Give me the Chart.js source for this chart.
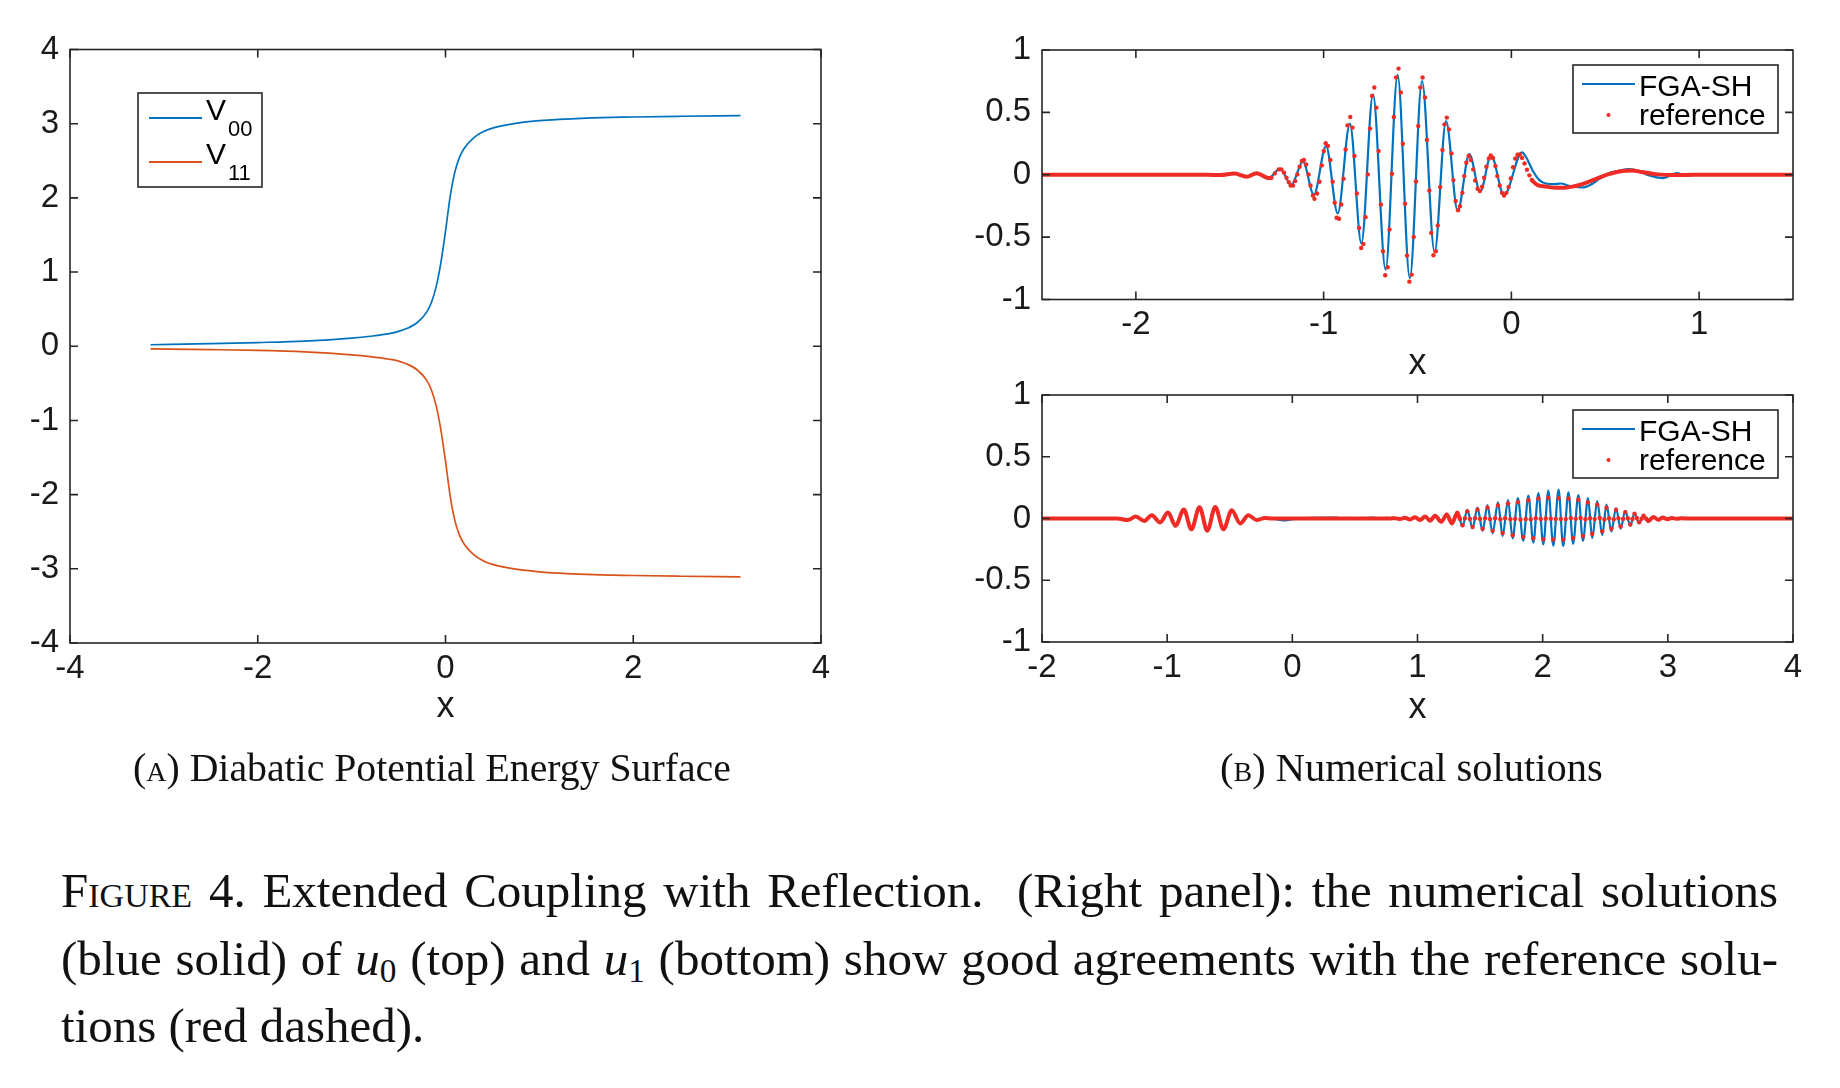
<!DOCTYPE html>
<html>
<head>
<meta charset="utf-8">
<script src="https://cdn.jsdelivr.net/npm/chart.js@4.4.1/dist/chart.umd.min.js"></script>
<style>
html, body { margin: 0; padding: 0; background: #fff; }
body { width: 1840px; height: 1088px; position: relative; overflow: hidden; font-family: 'Liberation Serif', serif; color: #111; }
canvas { position: absolute; }
.txt { position: absolute; white-space: pre; line-height: 1; }
.sc { font-variant: small-caps; }
.txt sub { font-size: 0.68em; vertical-align: baseline; position: relative; top: 0.22em; }
</style>
</head>
<body>
<canvas id="potChart" width="900" height="760" style="left:0;top:0"></canvas>
<canvas id="u0Chart" width="880" height="400" style="left:960px;top:0"></canvas>
<canvas id="u1Chart" width="880" height="400" style="left:960px;top:360px"></canvas>

<div class="txt" id="subA">(<span class="sc">a</span>) Diabatic Potential Energy Surface</div>
<div class="txt" id="subB">(<span class="sc">b</span>) Numerical solutions</div>
<div class="txt cap" id="cap1"><span class="sc">Figure</span> 4. Extended Coupling with Reflection.  (Right panel): the numerical solutions</div>
<div class="txt cap" id="cap2">(blue solid) of <i>u</i><sub>0</sub> (top) and <i>u</i><sub>1</sub> (bottom) show good agreements with the reference solu-</div>
<div class="txt cap" id="cap3">tions (red dashed).</div>

<script>
// --- DATA ---
// (A) diabatic potentials
const potX = [-3.1416, -2.5, -2, -1.5, -1, -0.8, -0.6, -0.5, -0.4, -0.3, -0.2, -0.15, -0.1, -0.05, 0, 0.05, 0.1, 0.15, 0.2, 0.3, 0.4, 0.5, 0.7, 1, 1.5, 2, 2.5, 3.1416];
const v00 = [0.02, 0.035, 0.05, 0.07, 0.11, 0.135, 0.17, 0.2, 0.245, 0.32, 0.46, 0.59, 0.8, 1.12, 1.55, 2.02, 2.35, 2.55, 2.67, 2.81, 2.89, 2.94, 2.995, 3.04, 3.075, 3.09, 3.1, 3.11];
const v11 = [-0.035, -0.045, -0.055, -0.075, -0.115, -0.14, -0.175, -0.2, -0.245, -0.32, -0.46, -0.59, -0.8, -1.12, -1.55, -2.02, -2.35, -2.55, -2.67, -2.81, -2.89, -2.94, -2.995, -3.04, -3.075, -3.09, -3.1, -3.11];

// (B) top: u0
const u0Blue = [[-2.5,0],[-1.65,0],[-1.58,0.003],[-1.53,-0.003],[-1.475,0.01],[-1.41,-0.015],[-1.357,0.015],[-1.295,-0.032],
  [-1.233,0.048],[-1.172,-0.078],[-1.11,0.105],[-1.052,-0.16],[-0.987,0.23],[-0.925,-0.31],[-0.86,0.41],[-0.799,-0.55],
  [-0.737,0.645],[-0.67,-0.76],[-0.606,0.8],[-0.541,-0.83],[-0.476,0.75],[-0.409,-0.62],[-0.348,0.43],[-0.286,-0.29],
  [-0.224,0.165],[-0.166,-0.135],[-0.108,0.155],[-0.039,-0.165],[0.057,0.18],[0.079,0.139],[0.114,0.032],[0.149,-0.043],
  [0.184,-0.07],[0.228,-0.075],[0.263,-0.07],[0.308,-0.088],[0.378,-0.102],[0.422,-0.08],[0.466,-0.035],[0.519,0.011],
  [0.572,0.032],[0.625,0.046],[0.677,0.032],[0.73,-0.003],[0.809,-0.027],[0.88,0.013],[0.933,-0.008],[0.994,0.005],
  [1.065,0],[1.2,0.003],[1.3,-0.002],[1.5,0]];
const u0RefDots = [[-1.278,-0.024],[-1.26,0.011],[-1.239,0.043],[-1.225,0.043],[-1.211,0.016],[-1.198,-0.024],[-1.186,-0.059],
  [-1.176,-0.086],[-1.163,-0.086],[-1.151,-0.051],[-1.14,0.003],[-1.128,0.064],[-1.116,0.11],[-1.105,0.118],[-1.093,0.083],
  [-1.08,0.003],[-1.07,-0.086],[-1.057,-0.166],[-1.049,-0.193],[-1.035,-0.15],[-1.022,-0.056],[-1.01,0.075],[-0.999,0.19],
  [-0.989,0.252],[-0.977,0.23],[-0.964,0.118],[-0.952,-0.056],[-0.941,-0.225],[-0.931,-0.345],[-0.918,-0.353],[-0.906,-0.238],
  [-0.894,-0.032],[-0.883,0.203],[-0.873,0.396],[-0.858,0.463],[-0.846,0.378],[-0.836,0.15],[-0.823,-0.15],[-0.811,-0.426],
  [-0.8,-0.587],[-0.788,-0.555],[-0.777,-0.34],[-0.765,0.003],[-0.753,0.37],[-0.742,0.632],[-0.73,0.699],[-0.719,0.538],
  [-0.707,0.19],[-0.695,-0.238],[-0.684,-0.613],[-0.672,-0.806],[-0.659,-0.742],[-0.649,-0.439],[-0.636,0.008],[-0.626,0.463],
  [-0.614,0.779],[-0.601,0.851],[-0.589,0.659],[-0.578,0.249],[-0.566,-0.233],[-0.556,-0.648],[-0.543,-0.857],[-0.531,-0.801],
  [-0.52,-0.498],[-0.508,-0.054],[-0.496,0.391],[-0.485,0.699],[-0.473,0.779],[-0.46,0.619],[-0.45,0.279],[-0.437,-0.126],
  [-0.427,-0.466],[-0.415,-0.645],[-0.402,-0.613],[-0.392,-0.407],[-0.379,-0.099],[-0.367,0.198],[-0.356,0.404],[-0.344,0.458],
  [-0.332,0.364],[-0.319,0.171],[-0.309,-0.043],[-0.297,-0.211],[-0.284,-0.284],[-0.274,-0.252],[-0.261,-0.145],[-0.251,-0.011],
  [-0.24,0.096],[-0.228,0.15],[-0.216,0.118],[-0.203,0.043],[-0.193,-0.046],[-0.18,-0.112],[-0.168,-0.131],[-0.156,-0.096],
  [-0.145,-0.024],[-0.133,0.064],[-0.12,0.131],[-0.11,0.155],[-0.098,0.134],[-0.085,0.07],[-0.075,-0.011],[-0.062,-0.086],
  [-0.05,-0.145],[-0.039,-0.166],[-0.027,-0.145],[-0.015,-0.098],[-0.003,-0.03],[0.009,0.06],[0.021,0.13],[0.033,0.16],
  [0.045,0.162],[0.057,0.135],[0.07,0.09],[0.083,0.04],[0.096,-0.005],[0.109,-0.042]];
const u0RefLeft = [[-2.5,0],[-1.62,0],[-1.55,-0.003],[-1.475,0.01],[-1.41,-0.016],[-1.357,0.013],[-1.295,-0.026],[-1.278,-0.024]];
const u0RefRight = [[0.109,-0.042],[0.123,-0.065],[0.14,-0.083],[0.184,-0.095],[0.246,-0.105],[0.272,-0.105],[0.325,-0.095],
  [0.378,-0.075],[0.448,-0.035],[0.519,0.005],[0.589,0.03],[0.642,0.035],[0.695,0.022],[0.765,0.005],[0.854,-0.003],[0.977,0],[1.5,0]];

// (B) bottom: u1
const u1Blue = [[-2,0],[-1.4,0],[-1.316,-0.013],[-1.25,0.016],[-1.184,-0.02],[-1.123,0.028],[-1.057,-0.034],[-0.993,0.05],
  [-0.933,-0.062],[-0.867,0.076],[-0.806,-0.09],[-0.742,0.095],[-0.679,-0.102],[-0.616,0.097],[-0.55,-0.09],[-0.484,0.07],
  [-0.417,-0.042],[-0.351,0.028],[-0.285,-0.013],[-0.219,0.005],[-0.16,0],[-0.1,-0.012],[-0.05,-0.016],[0,-0.006],[0.05,0],
  [0.35,0.008],[0.4,-0.004],[0.45,0.006],[0.5,0],[0.65,0.008],[0.7,-0.004],[0.75,0.006],[0.8,0],
  [0.82,0.003],[0.86,-0.005],[0.9,0.006],[0.94,-0.008],[0.98,0.01],[1.02,-0.013],[1.062,0.018],[1.1,-0.02],[1.141,0.026],
  [1.19,-0.03],[1.234,0.038],[1.275,-0.046],[1.318,0.055],[1.36,-0.064],[1.398,0.07],[1.44,-0.08],[1.479,0.088],[1.52,-0.1],
  [1.559,0.108],[1.6,-0.12],[1.643,0.13],[1.68,-0.142],[1.723,0.15],[1.76,-0.162],[1.802,0.165],[1.845,-0.18],[1.886,0.185],
  [1.925,-0.195],[1.966,0.205],[2.005,-0.21],[2.045,0.225],[2.085,-0.22],[2.127,0.235],[2.164,-0.222],[2.206,0.212],
  [2.243,-0.205],[2.285,0.19],[2.322,-0.18],[2.362,0.165],[2.396,-0.158],[2.436,0.14],[2.476,-0.133],[2.51,0.112],
  [2.549,-0.105],[2.586,0.085],[2.623,-0.082],[2.66,0.062],[2.7,-0.058],[2.734,0.042],[2.771,-0.038],[2.806,0.025],
  [2.845,-0.023],[2.885,0.014],[2.925,-0.012],[2.956,0.008],[3,-0.006],[3.03,0.004],[3.07,-0.003],[3.11,0.002],[3.2,0],[4,0]];
const u1RefLeft = [[-2,0],[-1.4,0],[-1.316,-0.013],[-1.25,0.016],[-1.184,-0.02],[-1.123,0.027],[-1.057,-0.032],[-0.993,0.048],
  [-0.933,-0.059],[-0.867,0.072],[-0.806,-0.088],[-0.742,0.091],[-0.679,-0.099],[-0.616,0.094],[-0.55,-0.088],[-0.484,0.067],
  [-0.417,-0.04],[-0.351,0.027],[-0.285,-0.013],[-0.219,0.005],[-0.16,0],[0.78,0],[0.82,0.003],[0.86,-0.005],[0.9,0.006],
  [0.94,-0.008],[0.98,0.01],[1.02,-0.012],[1.062,0.016],[1.1,-0.018],[1.141,0.022],[1.19,-0.026],[1.234,0.032],[1.275,-0.04],
  [1.318,0.045],[1.339,-0.004]];
const u1RefDots = [[1.318,0.045],[1.339,-0.004],[1.36,-0.055],[1.379,0.002],[1.398,0.058],[1.419,-0.004],[1.44,-0.068],
  [1.46,0.003],[1.479,0.072],[1.5,-0.004],[1.52,-0.083],[1.54,0.002],[1.559,0.088],[1.58,-0.005],[1.6,-0.1],[1.62,0.003],
  [1.643,0.105],[1.662,-0.006],[1.68,-0.118],[1.7,0.002],[1.723,0.122],[1.742,-0.006],[1.76,-0.135],[1.78,-0.002],
  [1.802,0.132],[1.823,-0.008],[1.845,-0.15],[1.865,-0.004],[1.886,0.148],[1.905,-0.006],[1.925,-0.16],[1.945,0.002],
  [1.966,0.162],[1.985,-0.004],[2.005,-0.168],[2.025,0],[2.045,0.168],[2.065,-0.002],[2.085,-0.17],[2.105,-0.003],
  [2.127,0.165],[2.145,-0.004],[2.164,-0.171],[2.185,-0.005],[2.206,0.162],[2.225,0.002],[2.243,-0.158],[2.264,-0.003],
  [2.285,0.152],[2.303,0.004],[2.322,-0.142],[2.342,-0.006],[2.362,0.13],[2.379,0.003],[2.396,-0.123],[2.416,-0.005],
  [2.436,0.112],[2.456,0.004],[2.476,-0.104],[2.493,-0.008],[2.51,0.088],[2.53,0.002],[2.549,-0.083],[2.568,-0.006],
  [2.586,0.07],[2.605,0.003],[2.623,-0.064],[2.642,-0.004],[2.66,0.052],[2.68,0.002],[2.7,-0.048],[2.717,-0.004],
  [2.734,0.038],[2.752,0.004],[2.771,-0.03],[2.79,-0.002],[2.806,0.022],[2.825,0.001],[2.845,-0.019]];
const u1RefRight = [[2.825,0.001],[2.845,-0.019],[2.885,0.013],[2.925,-0.011],[2.956,0.008],[3,-0.006],[3.03,0.004],
  [3.07,-0.003],[3.11,0.002],[3.2,0],[4,0]];

// tick labels
const potXTicks = [-4, -2, 0, 2, 4];
const potYTicks = [-4, -3, -2, -1, 0, 1, 2, 3, 4];
const u0XTicks = [-2, -1, 0, 1];
const u1XTicks = [-2, -1, 0, 1, 2, 3, 4];
const uYTicks = [-1, -0.5, 0, 0.5, 1];

// --- STYLE ---
const BLUE = '#0072BD';
const ORANGE = '#D95319';
const RED = '#ee2b24';
const AXIS = '#262626';
const TEXT = '#1a1a1a';

Chart.defaults.font.family = "'Liberation Sans', Arial, sans-serif";
Chart.defaults.color = TEXT;

const toPts = pairs => pairs.map(([x, y]) => ({ x, y }));
const zipPts = (xs, ys) => xs.map((x, i) => ({ x, y: ys[i] }));

// MATLAB-like box with inward ticks on all four sides
const matlabAxes = {
    id: 'matlabAxes',
    afterDatasetsDraw(chart) {
        const { ctx, chartArea: a, scales } = chart;
        const len = 8;
        ctx.save();
        ctx.strokeStyle = AXIS;
        ctx.lineWidth = 1.6;
        ctx.beginPath();
        scales.x.ticks.forEach(t => {
            const px = scales.x.getPixelForValue(t.value);
            ctx.moveTo(px, a.bottom); ctx.lineTo(px, a.bottom - len);
            ctx.moveTo(px, a.top); ctx.lineTo(px, a.top + len);
        });
        scales.y.ticks.forEach(t => {
            const py = scales.y.getPixelForValue(t.value);
            ctx.moveTo(a.left, py); ctx.lineTo(a.left + len, py);
            ctx.moveTo(a.right, py); ctx.lineTo(a.right - len, py);
        });
        ctx.stroke();
        ctx.strokeRect(a.left, a.top, a.right - a.left, a.bottom - a.top);
        ctx.restore();
    }
};

// boxed legend drawn like the MATLAB one
const matlabLegend = {
    id: 'matlabLegend',
    afterDraw(chart, args, opts) {
        if (!opts || !opts.box) return;
        const { ctx } = chart;
        const [bx, by, bw, bh] = opts.box;
        ctx.save();
        ctx.fillStyle = '#fff';
        ctx.fillRect(bx, by, bw, bh);
        ctx.strokeStyle = AXIS;
        ctx.lineWidth = 1.6;
        ctx.strokeRect(bx, by, bw, bh);
        opts.items.forEach(it => {
            if (it.kind === 'line') {
                ctx.strokeStyle = it.color;
                ctx.lineWidth = it.width || 1.8;
                ctx.beginPath();
                ctx.moveTo(it.x0, it.y); ctx.lineTo(it.x1, it.y);
                ctx.stroke();
            } else {
                ctx.fillStyle = it.color;
                ctx.beginPath();
                ctx.arc((it.x0 + it.x1) / 2, it.y, 2, 0, Math.PI * 2);
                ctx.fill();
            }
            ctx.fillStyle = '#000';
            ctx.textBaseline = 'alphabetic';
            ctx.font = (opts.size || 30) + "px 'Liberation Sans', Arial, sans-serif";
            ctx.fillText(it.text, it.tx, it.base);
            if (it.sub) {
                const w = ctx.measureText(it.text).width;
                ctx.font = "22px 'Liberation Sans', Arial, sans-serif";
                ctx.fillText(it.sub, it.tx + w + 2, it.base + 16);
            }
        });
        ctx.restore();
    }
};

function xScale(min, max, ticks, height) {
    return {
        type: 'linear', min, max,
        afterBuildTicks: s => { s.ticks = ticks.map(v => ({ value: v })); },
        afterFit: s => { s.height = height; },
        grid: { display: false, drawTicks: false },
        border: { display: false },
        ticks: { font: { size: 33 }, padding: 6, autoSkip: false, maxRotation: 0, callback: v => String(v) },
        title: { display: true, text: 'x', font: { size: 36 }, padding: 0 }
    };
}

function yScale(min, max, ticks, width) {
    return {
        type: 'linear', min, max,
        afterBuildTicks: s => { s.ticks = ticks.map(v => ({ value: v })); },
        afterFit: s => { s.width = width; },
        grid: { display: false, drawTicks: false },
        border: { display: false },
        ticks: { font: { size: 33 }, padding: 11, autoSkip: false, callback: v => String(v) }
    };
}

function baseOptions(x, y, padding, legend) {
    return {
        responsive: false,
        animation: false,
        devicePixelRatio: 1,
        layout: { padding },
        scales: { x, y },
        plugins: { legend: { display: false }, tooltip: { enabled: false }, matlabLegend: legend }
    };
}

const lineSet = (data, color, width, order) => ({
    data, showLine: true, borderColor: color, borderWidth: width, pointRadius: 0,
    cubicInterpolationMode: 'monotone', fill: false, order
});
const dotSet = (data, color, order) => ({
    data, showLine: false, pointRadius: 2.2, pointBorderWidth: 0, backgroundColor: color, borderColor: color, order
});

// --- CHARTS ---
new Chart(document.getElementById('potChart'), {
    type: 'scatter',
    data: {
        datasets: [
            lineSet(zipPts(potX, v00), BLUE, 1.7, 1),
            lineSet(zipPts(potX, v11), ORANGE, 1.7, 0)
        ]
    },
    options: baseOptions(
        xScale(-4, 4, potXTicks, 86),
        yScale(-4, 4, potYTicks, 70),
        { left: 0, top: 49.5, right: 79, bottom: 31 },
        {
            box: [138, 93, 124, 94], size: 30,
            items: [
                { kind: 'line', color: BLUE, x0: 149, x1: 202, y: 118, text: 'V', sub: '00', tx: 206, base: 120 },
                { kind: 'line', color: ORANGE, x0: 149, x1: 202, y: 162, text: 'V', sub: '11', tx: 206, base: 164 }
            ]
        }
    ),
    plugins: [matlabAxes, matlabLegend]
});

new Chart(document.getElementById('u0Chart'), {
    type: 'scatter',
    data: {
        datasets: [
            dotSet(toPts(u0RefDots), RED, 0),
            lineSet(toPts(u0RefLeft), RED, 4, 1),
            lineSet(toPts(u0RefRight), RED, 4, 1),
            lineSet(toPts(u0Blue), BLUE, 2.2, 2)
        ]
    },
    options: baseOptions(
        xScale(-2.5, 1.5, u0XTicks, 86),
        yScale(-1, 1, uYTicks, 82),
        { left: 0, top: 50, right: 47, bottom: 14.5 },
        {
            box: [613, 65, 205, 68], size: 30,
            items: [
                { kind: 'line', color: BLUE, width: 2, x0: 622, x1: 675, y: 84, text: 'FGA-SH', tx: 679, base: 96 },
                { kind: 'dot', color: RED, x0: 622, x1: 675, y: 115, text: 'reference', tx: 679, base: 125 }
            ]
        }
    ),
    plugins: [matlabAxes, matlabLegend]
});

new Chart(document.getElementById('u1Chart'), {
    type: 'scatter',
    data: {
        datasets: [
            dotSet(toPts(u1RefDots), RED, 0),
            lineSet(toPts(u1RefLeft), RED, 4, 1),
            lineSet(toPts(u1RefRight), RED, 4, 1),
            lineSet(toPts(u1Blue), BLUE, 2.2, 2)
        ]
    },
    options: baseOptions(
        xScale(-2, 4, u1XTicks, 88),
        yScale(-1, 1, uYTicks, 82),
        { left: 0, top: 35, right: 47, bottom: 30 },
        {
            box: [613, 50, 205, 68], size: 30,
            items: [
                { kind: 'line', color: BLUE, width: 2, x0: 622, x1: 675, y: 69, text: 'FGA-SH', tx: 679, base: 81 },
                { kind: 'dot', color: RED, x0: 622, x1: 675, y: 100, text: 'reference', tx: 679, base: 110 }
            ]
        }
    ),
    plugins: [matlabAxes, matlabLegend]
});

// --- CAPTIONS ---
function placeSub(id, left, right, baseline) {
    const el = document.getElementById(id);
    el.style.fontSize = '40px';
    const w = el.getBoundingClientRect().width;
    const f = 40 * (right - left) / w;
    el.style.fontSize = f + 'px';
    el.style.left = left + 'px';
    el.style.top = (baseline - 0.8375 * f) + 'px';
}

function placeCap(id, baseline, justify) {
    const el = document.getElementById(id);
    const f = 49;
    el.style.fontSize = f + 'px';
    el.style.left = '61px';
    el.style.top = (baseline - 0.8375 * f) + 'px';
    el.style.wordSpacing = '0px';
    if (justify) {
        const w = el.getBoundingClientRect().width;
        const spaces = (el.textContent.match(/ /g) || []).length;
        el.style.wordSpacing = ((1717 - w) / spaces) + 'px';
    }
}

function layoutText() {
    placeSub('subA', 133, 731, 782);
    placeSub('subB', 1220, 1603, 782);
    placeCap('cap1', 907, true);
    placeCap('cap2', 975, true);
    placeCap('cap3', 1042, false);
}
layoutText();
if (document.fonts && document.fonts.ready) document.fonts.ready.then(layoutText);
</script>
</body>
</html>
